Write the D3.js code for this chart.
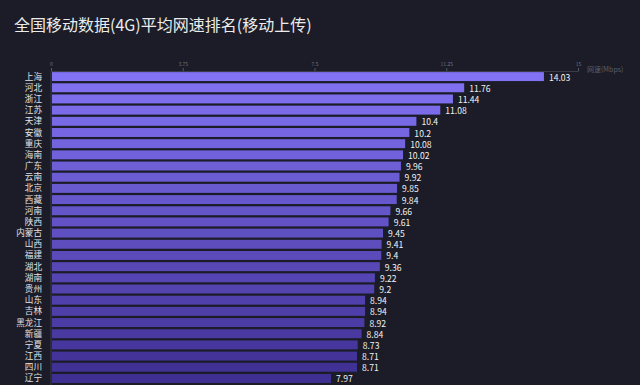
<!DOCTYPE html>
<html>
<head>
<meta charset="utf-8">
<script src="https://cdn.jsdelivr.net/npm/d3@7"></script>
<style>
  body { margin: 0; background: #1b1c27; }
  text { font-family: "Noto Sans CJK SC", "Noto Sans", sans-serif; }
</style>
</head>
<body>
<script>
// provinces and upload speeds (Mbps)
var provinces = ["上海", "河北", "浙江", "江苏", "天津", "安徽", "重庆", "海南", "广东", "云南",
                 "北京", "西藏", "河南", "陕西", "内蒙古", "山西", "福建", "湖北", "湖南", "贵州",
                 "山东", "吉林", "黑龙江", "新疆", "宁夏", "江西", "四川", "辽宁", "青海"];
var speeds = [14.03, 11.76, 11.44, 11.08, 10.4, 10.2, 10.08, 10.02, 9.96, 9.92,
              9.85, 9.84, 9.66, 9.61, 9.45, 9.41, 9.4, 9.36, 9.22, 9.2,
              8.94, 8.94, 8.92, 8.84, 8.73, 8.71, 8.71, 7.97, 7.6];
var tickValues = [0, 3.75, 7.5, 11.25, 15];
var tickLabels = ["0", "3.75", "7.5", "11.25", "15"];

var width = 640,
    height = 385;

var svg = d3.select("body").append("svg")
    .attr("width", width)
    .attr("height", height);

svg.append("rect")
    .attr("width", width)
    .attr("height", height)
    .attr("fill", "#1b1c27");

// title
svg.append("text")
    .attr("x", 14)
    .attr("y", 31)
    .attr("fill", "#ececec")
    .style("font-size", "16px")
    .text("全国移动数据(4G)平均网速排名(移动上传)");

var x = d3.scaleLinear().domain([0, 15]).range([51, 578]);
var y = d3.scaleBand().domain(provinces)
    .range([71, 71 + provinces.length * 11.18])
    .paddingInner(0.2).paddingOuter(0.1);

// bar colours fade from light to dark purple
var color = d3.scaleLinear()
    .domain([0, provinces.length - 1])
    .range(["#8273f4", "#3c2c8e"])
    .interpolate(d3.interpolateRgb);

// top axis
var axis = svg.append("g")
    .attr("transform", "translate(0,71)")
    .call(d3.axisTop(x).tickValues(tickValues)
        .tickFormat(function(d, i) { return tickLabels[i]; })
        .tickSize(3).tickPadding(2));
axis.select(".domain").attr("stroke", "#3a3b48");
axis.selectAll(".tick line").attr("stroke", "#555866");
axis.selectAll(".tick text").attr("fill", "#6f7280").style("font-size", "5px");

svg.append("text")
    .attr("x", 587)
    .attr("y", 72)
    .attr("fill", "#5c5f6c")
    .style("font-size", "7px")
    .text("网速(Mbps)");

// left axis line
svg.append("line")
    .attr("x1", x(0)).attr("x2", x(0))
    .attr("y1", 71).attr("y2", height)
    .attr("stroke", "#3a3b48");

var rows = svg.selectAll(".row")
    .data(provinces)
    .enter().append("g")
    .attr("class", "row");

rows.append("rect")
    .attr("x", x(0) + 1)
    .attr("y", function(d) { return y(d); })
    .attr("width", function(d, i) { return x(speeds[i]) - x(0) - 1; })
    .attr("height", y.bandwidth())
    .attr("fill", function(d, i) { return color(i); });

rows.append("text")
    .attr("x", 42)
    .attr("y", function(d) { return y(d) + y.bandwidth() / 2; })
    .attr("dy", "0.35em")
    .attr("text-anchor", "end")
    .attr("fill", "#e2e2e6")
    .style("font-size", "8.6px")
    .text(function(d) { return d; });

rows.append("text")
    .attr("x", function(d, i) { return x(speeds[i]) + 5; })
    .attr("y", function(d) { return y(d) + y.bandwidth() / 2 + 1; })
    .attr("dy", "0.35em")
    .attr("fill", "#f2f2f2")
    .style("font-size", "8.6px")
    .text(function(d, i) { return speeds[i]; });
</script>
</body>
</html>
